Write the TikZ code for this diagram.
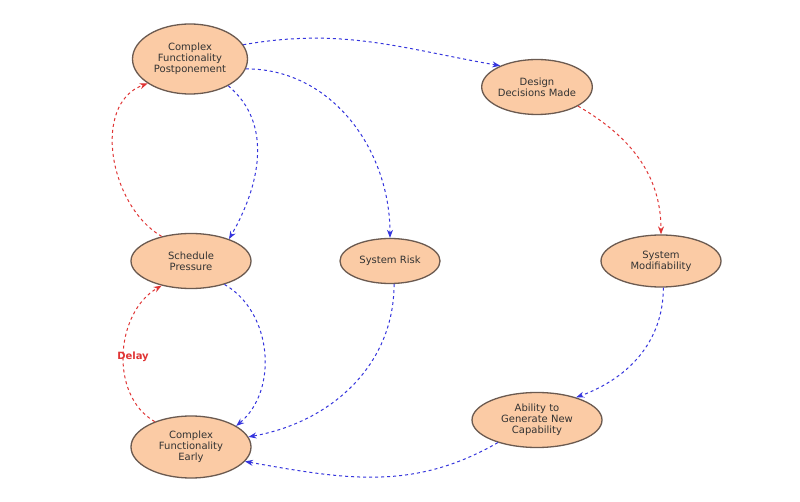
\documentclass[tikz,border=0pt]{standalone}
\usepackage{fontspec}
\setmainfont{DejaVu Sans}
\usetikzlibrary{shapes.geometric,arrows.meta}
\definecolor{fillc}{HTML}{FBCBA5}
\definecolor{linec}{HTML}{6B5A50}
\definecolor{bl}{HTML}{3535DD}
\definecolor{rd}{HTML}{E03535}
\begin{document}
\begin{tikzpicture}[x=1pt,y=-1pt,
  st/.style={ellipse,draw=linec,fill=fillc,line width=1.3pt,inner sep=0pt,align=center,font=\fontsize{10}{11}\selectfont,text=black!80},
  ab/.style={dashed,line width=1pt,draw=bl,-{Stealth[length=8pt,width=6pt]}},
  ar/.style={dashed,line width=1pt,draw=rd,-{Stealth[length=8pt,width=6pt]}}]
\useasboundingbox (0,0) rectangle (800,502);
\fill[white] (0,0) rectangle (800,502);
\node[st,minimum width=115,minimum height=70] (cfp) at (190,59) {Complex\\Functionality\\Postponement};
\node[st,minimum width=110,minimum height=55] (ddm) at (537,87) {Design\\Decisions Made};
\node[st,minimum width=120,minimum height=55] (sp) at (191,261) {Schedule\\Pressure};
\node[st,minimum width=100,minimum height=45] (sr) at (390,261) {System Risk};
\node[st,minimum width=120,minimum height=52] (sm) at (661,261) {System\\Modifiability};
\node[st,minimum width=130,minimum height=55] (ag) at (537,420) {Ability to\\Generate New\\Capability};
\node[st,minimum width=120,minimum height=62] (cfe) at (191,447) {Complex\\Functionality\\Early};
\node[text=rd,font=\bfseries\fontsize{10}{11}\selectfont] (dl) at (133,357) {Delay};
\draw[ab] (cfp.15) to[out=10,in=170] (ddm.150);
\draw[ab] (cfp.-35) to[out=-40,in=60] (sp.30);
\draw[ab] (cfp.-10) to[out=0,in=90] (sr.north);
\draw[ar] (sp.140) to[out=150,in=200] (cfp.-150);
\draw[ar] (ddm.-25) to[out=-30,in=90] (sm.north);
\draw[ab] (sp.-35) to[out=-30,in=40] (cfe.25);
\draw[ar] (cfe.145) to[out=150,in=210] (sp.-140);
\draw[ab] (sr.-80) to[out=-90,in=10] (cfe.10);
\draw[ab] (sm.-85) to[out=-90,in=20] (ag.30);
\draw[ab] (ag.-150) to[out=-150,in=-10] (cfe.-15);
\end{tikzpicture}
\end{document}
